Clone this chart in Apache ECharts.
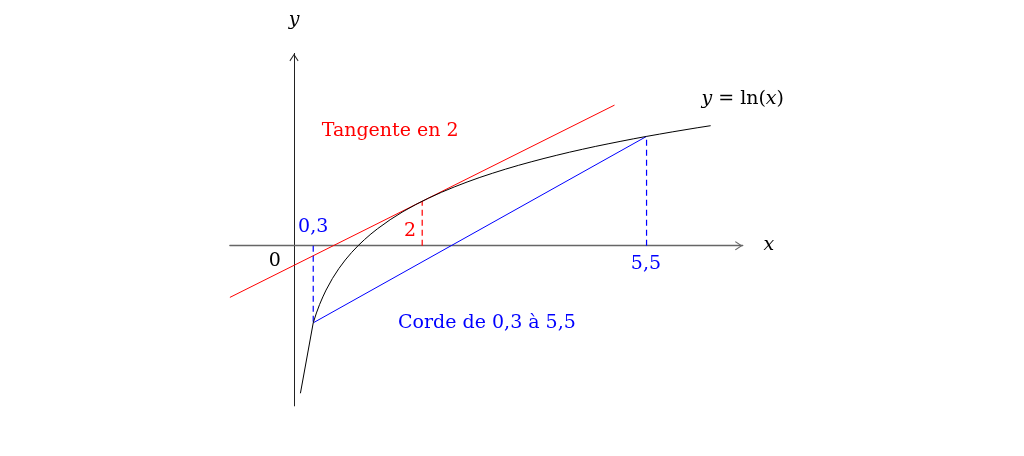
<!DOCTYPE html>
<html><head><meta charset="utf-8">
<script src="https://cdn.jsdelivr.net/npm/echarts@6/dist/echarts.min.js"></script>
<style>html,body{margin:0;padding:0;background:#fff}#c{width:1024px;height:456px}</style>
</head><body><div id="c"></div>
<script>
// y = ln(x) sampled points (x, y)
const curvePts = [[0.1,-2.303],[0.3,-1.204],[0.35,-1.050],[0.4,-0.916],[0.45,-0.799],[0.5,-0.693],[0.6,-0.511],[0.7,-0.357],[0.8,-0.223],[0.9,-0.105],[1.0,0.0],[1.1,0.095],[1.2,0.182],[1.3,0.262],[1.5,0.405],[1.7,0.531],[1.9,0.642],[2.1,0.742],[2.3,0.833],[2.5,0.916],[2.7,0.993],[2.9,1.065],[3.1,1.131],[3.3,1.194],[3.5,1.253],[3.7,1.308],[3.9,1.361],[4.1,1.411],[4.3,1.459],[4.5,1.504],[4.7,1.548],[4.9,1.589],[5.1,1.629],[5.3,1.668],[5.5,1.705],[5.7,1.740],[5.9,1.775],[6.1,1.808],[6.3,1.841],[6.5,1.872]];
const tangentPts = [[-1,-0.807],[5,2.193]];
const chordPts = [[0.3,-1.204],[5.5,1.705]];
const dashBlue1 = [[0.3,0],[0.3,-1.204]];
const dashRed = [[2,0],[2,0.693]];
const dashBlue2 = [[5.5,0],[5.5,1.705]];
const xRange = [-1, 7];
const yRange = [-2.5, 3];
const blackLabels = [[-0.3,-0.24,'0'],[7.0,2.29,'{i|y} = ln({i|x})'],[7.41,0.01,'{i|x}'],[0,3.52,'{i|y}']];
const redLabels = [[1.5,1.79,'Tangente en 2'],[1.81,0.23,'2']];
const blueLabels = [[0.3,0.29,'0,3'],[5.49,-0.29,'5,5'],[3.01,-1.21,'Corde de 0,3 à 5,5']];

const FONT = 'DejaVu Serif';
const arrow = 'path://M0,0 L6,9 L5,10 L0,2.5 L-5,10 L-6,9 Z';
function labelSeries(data, color){
  return {type:'scatter', data:data, symbolSize:0, clip:false, silent:true, z:5,
    itemStyle:{color:color, opacity:1},
    label:{show:true, position:'inside', formatter:p=>p.data[2], color:color,
      textBorderWidth:0, fontFamily:FONT, fontSize:19,
      rich:{i:{fontStyle:'italic', fontFamily:FONT, fontSize:19, color:color, textBorderWidth:0}}}};
}
function lineSeries(data, color, dashed){
  return {type:'line', data:data, showSymbol:false, symbol:'none', smooth:false, clip:false, silent:true,
    lineStyle:{color:color, width: dashed ? 1.2 : 1, type: dashed ? [6,4] : 'solid'}};
}
const chart = echarts.init(document.getElementById('c'));
chart.setOption({
  animation:false,
  backgroundColor:'#fff',
  grid:{left:229.9, width:512.8, top:53.4, height:352.5, containLabel:false},
  xAxis:{type:'value', min:xRange[0], max:xRange[1], splitLine:{show:false}, axisTick:{show:false}, axisLabel:{show:false},
    axisLine:{onZero:true, lineStyle:{color:'#666', width:1.4}, symbol:['none',arrow], symbolSize:[9,8], symbolOffset:[0,-4]}},
  yAxis:{type:'value', min:yRange[0], max:yRange[1], splitLine:{show:false}, axisTick:{show:false}, axisLabel:{show:false},
    axisLine:{onZero:true, lineStyle:{color:'#222', width:1}, symbol:['none',arrow], symbolSize:[9,8], symbolOffset:[0,-4]}},
  series:[
    lineSeries(tangentPts,'#ff0000',false),
    lineSeries(chordPts,'#0000ff',false),
    lineSeries(dashBlue1,'#0000ff',true),
    lineSeries(dashRed,'#ff0000',true),
    lineSeries(dashBlue2,'#0000ff',true),
    lineSeries(curvePts,'#000000',false),
    labelSeries(blackLabels,'#000000'),
    labelSeries(redLabels,'#ff0000'),
    labelSeries(blueLabels,'#0000ff')
  ]
});
</script></body></html>
